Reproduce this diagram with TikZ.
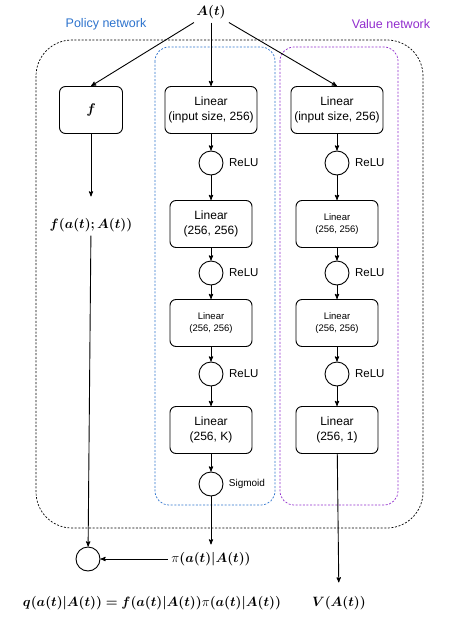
\RequirePackage{fix-cm}
\documentclass[tikz,border=0pt]{standalone}
\usepackage{amsmath,bm}
\usepackage{fontspec}
\setsansfont{Liberation Sans}
\usetikzlibrary{arrows}
\definecolor{policyblue}{RGB}{45,115,205}
\definecolor{valuepurple}{RGB}{145,45,205}

\begin{document}
\begin{tikzpicture}[x=1pt,y=-1pt,>=stealth',line width=0.9pt,
    lin node/.style={rectangle,rounded corners=6pt,draw,align=center,minimum width=82pt,minimum height=47pt,font=\sffamily\fontsize{12}{14.5}\selectfont},
    small lin/.style={lin node,font=\sffamily\fontsize{9.5}{12.5}\selectfont},
    act node/.style={circle,draw,minimum size=24pt,inner sep=0pt},
    act label/.style={font=\sffamily\fontsize{11.5}{13}\selectfont,anchor=west},
    math label/.style={font=\fontsize{13.5}{16}\selectfont},
    box/.style={line width=0.7pt,dash pattern=on 2pt off 1.6pt,rounded corners=#1}]
    \useasboundingbox (0,0) rectangle (474,632);
    % frames
    \draw[box=36pt] (36,40) rectangle (423,528);
    \draw[box=14pt,policyblue] (155,47) rectangle (275,505);
    \draw[box=14pt,valuepurple] (280,47) rectangle (398,505);
    \node[font=\sffamily\fontsize{12.5}{14}\selectfont,text=policyblue] (ptitle) at (106,24) {Policy network};
    \node[font=\sffamily\fontsize{12.5}{14}\selectfont,text=valuepurple] (vtitle) at (391,24) {Value network};
    % input
    \node[math label] (A) at (211,12) {$\bm{A(t)}$};
    \node[lin node,minimum width=63pt,font=\fontsize{14}{16}\selectfont] (f) at (91,110) {$\bm{f}$};
    % policy column
    \node[lin node] (p1) at (211,110) {Linear\\(input size, 256)};
    \node[act node] (pr1) at (211,163) {};
    \node[lin node] (p2) at (211,224) {Linear\\(256, 256)};
    \node[act node] (pr2) at (211,273) {};
    \node[small lin] (p3) at (211,323) {Linear\\(256, 256)};
    \node[act node] (pr3) at (211,374) {};
    \node[lin node] (p4) at (211,430) {Linear\\(256, K)};
    \node[act node] (sig) at (211,484) {};
    \node[act label] at (pr1.east) {\,ReLU};
    \node[act label] at (pr2.east) {\,ReLU};
    \node[act label] at (pr3.east) {\,ReLU};
    \node[act label,font=\sffamily\fontsize{10}{12}\selectfont] at (sig.east) {\,Sigmoid};
    % value column
    \node[lin node] (v1) at (337,110) {Linear\\(input size, 256)};
    \node[act node] (vr1) at (337,163) {};
    \node[small lin] (v2) at (337,224) {Linear\\(256, 256)};
    \node[act node] (vr2) at (337,273) {};
    \node[small lin] (v3) at (337,323) {Linear\\(256, 256)};
    \node[act node] (vr3) at (337,374) {};
    \node[lin node] (v4) at (337,430) {Linear\\(256, 1)};
    \node[act label] at (vr1.east) {\,ReLU};
    \node[act label] at (vr2.east) {\,ReLU};
    \node[act label] at (vr3.east) {\,ReLU};
    % outputs
    \node[math label] (fout) at (91,225) {$\bm{f(a(t);A(t))}$};
    \node[act node] (prod) at (88,559) {};
    \node[math label] (pi) at (211,559) {$\pi\bm{(a(t)|A(t))}$};
    \node[math label] (V) at (339,603) {$\bm{V(A(t))}$};
    \node[math label] (q) at (152,603) {$\bm{q(a(t)|A(t))=f(a(t)|A(t))}\pi\bm{(a(t)|A(t))}$};
    \path[->]
    (A) edge (f.north)
    edge (p1)
    edge (v1.north)
    (p1) edge (pr1)
    (pr1) edge (p2)
    (p2) edge (pr2)
    (pr2) edge (p3)
    (p3) edge (pr3)
    (pr3) edge (p4)
    (p4) edge (sig)
    (v1) edge (vr1)
    (vr1) edge (v2)
    (v2) edge (vr2)
    (vr2) edge (v3)
    (v3) edge (vr3)
    (vr3) edge (v4)
    (f) edge [shorten >=18pt] (fout)
    (fout) edge (prod)
    (sig) edge [shorten >=4pt] (pi)
    (pi) edge (prod)
    (v4) edge [shorten >=10pt] (V);
\end{tikzpicture}
\end{document}
